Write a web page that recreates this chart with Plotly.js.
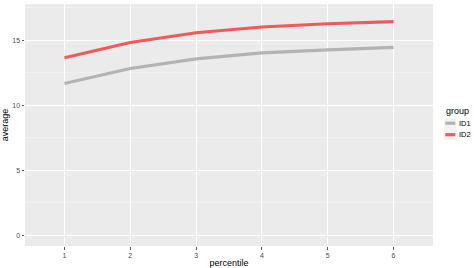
<!DOCTYPE html>
<html>
<head>
<meta charset="utf-8">
<script src="https://cdn.plot.ly/plotly-3.0.1.min.js"></script>
<style>html,body{margin:0;padding:0;background:#fff;}#chart{width:474px;height:268px;}</style>
</head>
<body>
<div id="chart"></div>
<script>
const percentile = [1, 2, 3, 4, 5, 6];
const groupNames = ["ID1", "ID2"];
const id1Average = [11.68, 12.84, 13.58, 14.04, 14.27, 14.46];
const id2Average = [13.66, 14.84, 15.59, 16.03, 16.28, 16.44];
const seriesColors = ["#B3B3B3", "#F25A5A"];
const xTickLabels = ["1", "2", "3", "4", "5", "6"];
const yTickValues = [0, 5, 10, 15];

const series = [id1Average, id2Average];
const traces = series.map((vals, i) => ({
  x: percentile,
  y: vals,
  type: "scatter",
  mode: "lines",
  name: groupNames[i],
  showlegend: false,
  line: {color: seriesColors[i], width: 3.2}
}));

const W = 474, H = 268;
const mL = 25, mR = 41.3, mT = 4, mB = 22.4;
const plotW = W - mL - mR, plotH = H - mT - mB;
function px2paperX(px) { return (px - mL) / plotW; }
function px2paperY(py) { return (H - mB - py) / plotH; }

const shapes = [];
const annotations = [];
// manual ggplot-style legend
annotations.push({
  text: "group", xref: "paper", yref: "paper",
  x: px2paperX(443.5), y: px2paperY(111), xanchor: "left", yanchor: "middle",
  showarrow: false, font: {family: "Liberation Sans, Arial, sans-serif", size: 9, color: "#000"}
});
const keyY = [123, 134.5];
groupNames.forEach((g, i) => {
  shapes.push({
    type: "rect", xref: "paper", yref: "paper",
    x0: px2paperX(444), x1: px2paperX(456), y0: px2paperY(keyY[i] - 5.5), y1: px2paperY(keyY[i] + 5.5),
    fillcolor: "#F2F2F2", line: {width: 0}, layer: "below"
  });
  shapes.push({
    type: "line", xref: "paper", yref: "paper",
    x0: px2paperX(445), x1: px2paperX(455), y0: px2paperY(keyY[i]), y1: px2paperY(keyY[i]),
    line: {color: seriesColors[i], width: 3.2}
  });
  annotations.push({
    text: g, xref: "paper", yref: "paper",
    x: px2paperX(457), y: px2paperY(keyY[i]), xanchor: "left", yanchor: "middle",
    showarrow: false, font: {family: "Liberation Sans, Arial, sans-serif", size: 7.5, color: "#000"}
  });
});

const layout = {
  width: W, height: H,
  margin: {l: mL, r: mR, t: mT, b: mB, pad: 0},
  paper_bgcolor: "#FFFFFF",
  plot_bgcolor: "#EBEBEB",
  showlegend: false,
  font: {family: "Liberation Sans, Arial, sans-serif"},
  xaxis: {
    range: [0.4, 6.6],
    tickvals: percentile, ticktext: xTickLabels,
    showgrid: true, gridcolor: "#FFFFFF", gridwidth: 1,
    zeroline: false, showline: false,
    ticks: "outside", ticklen: 2.5, tickwidth: 0.8, tickcolor: "#333333",
    tickfont: {size: 7, color: "#4D4D4D"},
    automargin: false,
    title: {text: "percentile", font: {size: 9, color: "#000"}, standoff: 3}
  },
  yaxis: {
    range: [-0.82, 17.8],
    tickvals: yTickValues,
    showgrid: true, gridcolor: "#FFFFFF", gridwidth: 1,
    minor: {dtick: 2.5, tick0: 2.5, showgrid: true, gridcolor: "#F5F5F5", gridwidth: 0.5, ticks: ""},
    zeroline: false, showline: false,
    ticks: "outside", ticklen: 2.5, tickwidth: 0.8, tickcolor: "#333333",
    tickfont: {size: 7, color: "#4D4D4D"},
    automargin: false,
    title: {text: "average", font: {size: 9, color: "#000"}, standoff: 3}
  },
  shapes: shapes,
  annotations: annotations
};

Plotly.newPlot("chart", traces, layout, {displayModeBar: false, staticPlot: true});
</script>
</body>
</html>
